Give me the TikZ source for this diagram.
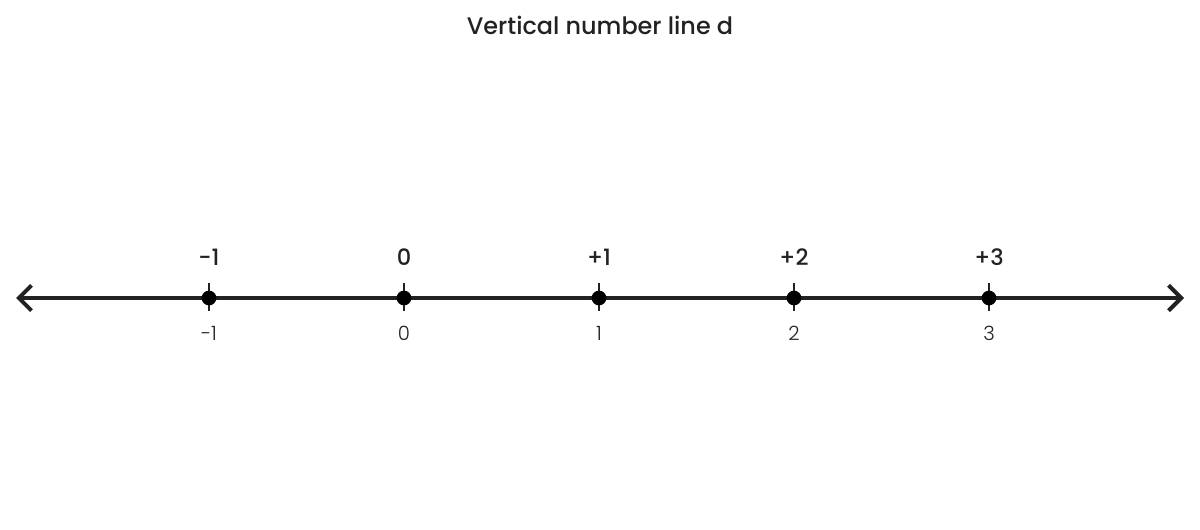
\documentclass[tikz,border=0pt]{standalone}
\usepackage{fontspec}
\setmainfont{Poppins}
\newfontfamily\lightfont{Poppins Light}
\newfontfamily\mediumfont{Poppins Medium}
\usetikzlibrary{arrows.meta}
\definecolor{inkgray}{HTML}{222222}

\begin{document}
\begin{tikzpicture}[x=0.025cm, y=-0.025cm,
        axisline/.style={inkgray, line width=3pt, {Straight Barb[length=9pt,width=18pt,line width=2.8pt]}-{Straight Barb[length=9pt,width=18pt,line width=2.8pt]}},
        tickmark/.style={inkgray, line width=0.8pt},
        dotmark/.style={circle, fill=black, inner sep=0pt, minimum size=10.5pt},
        toplabel/.style={inkgray, font=\mediumfont\fontsize{16}{18}\selectfont},
        botlabel/.style={inkgray, font=\lightfont\fontsize{14}{16}\selectfont}]
        \useasboundingbox (0,0) rectangle (1200,530);

        \node[inkgray, font=\mediumfont\fontsize{17}{20}\selectfont] (title) at (600,25) {Vertical number line d};

        \coordinate (leftend) at (16,298);
        \coordinate (rightend) at (1184,298);
        \draw [axisline] (leftend) -- (rightend);

        \foreach \n/\x/\top in {m1/209/-1, z0/404/0, p1/599/+1, p2/794/+2, p3/989/+3} {
            \coordinate (tick\n) at (\x,298);
            \draw [tickmark] (\x,283) -- (\x,311);
            \node[dotmark] (dot\n) at (tick\n) {};
            \node[toplabel] (top\n) at (\x,257) {\top};
        }
        \foreach \n/\x/\bot in {m1/209/-1, z0/404/0, p1/599/1, p2/794/2, p3/989/3} {
            \node[botlabel] (bot\n) at (\x,333) {\bot};
        }
\end{tikzpicture}
\end{document}
